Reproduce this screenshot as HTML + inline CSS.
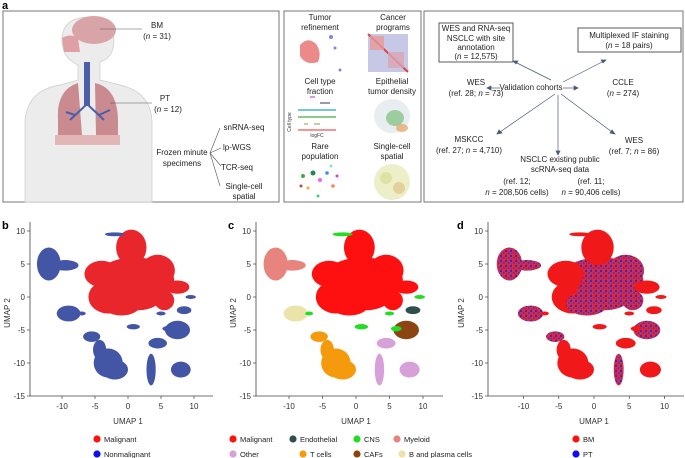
<!DOCTYPE html>
<html><head><meta charset="utf-8">
<style>
html,body{margin:0;padding:0;background:#fff;}
svg{display:block;font-family:"Liberation Sans",sans-serif;}
.t{font-size:8px;fill:#222;text-anchor:middle;}
.tk{font-size:8px;fill:#333;}
.lg{font-size:7.5px;fill:#222;}
.pl{font-size:11px;font-weight:bold;fill:#000;}
</style></head>
<body>
<svg id="fig" width="685" height="458" viewBox="0 0 685 458" xmlns="http://www.w3.org/2000/svg">
<defs>
<pattern id="mixPat" width="5" height="5" patternUnits="userSpaceOnUse">
<rect width="5" height="5" fill="#e8262b"/><rect x="0" y="0" width="2" height="2" fill="#2a2ae0"/><rect x="3" y="2" width="1.5" height="2" fill="#3a3ad8"/><rect x="1" y="3.5" width="1" height="1" fill="#3a3ad8"/>
</pattern>
</defs>
<text class="pl" x="2" y="9">a</text>
<g>
<rect x="3" y="11" width="276" height="191" fill="#fff" stroke="#555" stroke-width="0.8"/>
<path d="M25,202 L25,120 Q28,90 60,85 L78,80 L78,65 Q62,58 62,40 Q62,18 88,17 Q112,18 114,40 Q114,58 100,62 L100,80 L120,85 Q150,92 152,120 L152,202 Z" fill="#ececec" stroke="#ccc" stroke-width="0.7"/>
<ellipse cx="94" cy="30" rx="22" ry="14" fill="#d9a4a8"/>
<path d="M62,38 Q70,33 78,38 L80,52 L64,52 Z" fill="#dfa0a5"/>
<path d="M58,120 Q56,90 78,83 L82,135 Q70,140 58,135 Z" fill="#c98a90"/>
<path d="M95,83 Q118,88 118,122 L118,138 Q104,140 96,135 Z" fill="#c98a90"/>
<rect x="84" y="62" width="6" height="44" fill="#4a5fa8"/>
<path d="M87,104 L70,120 M87,104 L104,120 M75,115 L66,112 M99,115 L110,110" stroke="#4a5fa8" stroke-width="2" fill="none"/>
<rect x="55" y="135" width="65" height="10" fill="#e2b6b6"/>
<line x1="100" y1="29" x2="142" y2="29" stroke="#555" stroke-width="0.6"/>
<text class="t" x="157" y="28">BM</text>
<text class="t" x="157" y="39">(<tspan font-style="italic">n</tspan> = 31)</text>
<line x1="110" y1="103" x2="152" y2="103" stroke="#555" stroke-width="0.6"/>
<text class="t" x="165" y="101">PT</text>
<text class="t" x="168" y="112">(<tspan font-style="italic">n</tspan> = 12)</text>
<text class="t" x="182" y="155">Frozen minute</text>
<text class="t" x="182" y="166">specimens</text>
<path d="M210,153 L220,128 M210,153 L221,148 M210,153 L221,166 M210,153 L220,186" stroke="#555" stroke-width="0.6" fill="none"/>
<text class="t" x="244" y="130">snRNA-seq</text>
<text class="t" x="237" y="150">lp-WGS</text>
<text class="t" x="237" y="170">TCR-seq</text>
<text class="t" x="244" y="189">Single-cell</text>
<text class="t" x="244" y="199">spatial</text>
</g>
<g>
<rect x="284" y="11" width="137" height="191" fill="#fff" stroke="#555" stroke-width="0.8"/>
<text class="t" x="320" y="20">Tumor</text><text class="t" x="320" y="30">refinement</text>
<text class="t" x="393" y="20">Cancer</text><text class="t" x="393" y="30">programs</text>
<path d="M300,45 Q308,36 316,44 Q322,52 318,62 Q306,66 300,56 Z" fill="#ec8a8a"/>
<circle cx="331" cy="37" r="2" fill="#7788dd"/><circle cx="335" cy="48" r="1.5" fill="#7788dd"/><circle cx="340" cy="70" r="1.5" fill="#7788dd"/>
<rect x="368" y="34" width="40" height="38" fill="#c7c7e6"/>
<path d="M368,34 L408,72" stroke="#d44" stroke-width="2"/>
<rect x="370" y="36" width="14" height="14" fill="#e59a9a" opacity="0.8"/>
<rect x="388" y="52" width="16" height="16" fill="#d9a6b5" opacity="0.8"/>
<text class="t" x="320" y="84">Cell type</text><text class="t" x="320" y="94">fraction</text>
<text class="t" x="392" y="84">Epithelial</text><text class="t" x="392" y="94">tumor density</text>
<line x1="310" y1="97" x2="315" y2="97" stroke="#c5c" stroke-width="1.2"/>
<line x1="320" y1="103" x2="330" y2="103" stroke="#558" stroke-width="1.2"/>
<line x1="298" y1="110" x2="336" y2="110" stroke="#2aa" stroke-width="1.2"/>
<line x1="298" y1="117" x2="336" y2="117" stroke="#4a4" stroke-width="1.2"/>
<line x1="304" y1="124" x2="308" y2="124" stroke="#aa5" stroke-width="1.2"/><line x1="314" y1="124" x2="320" y2="124" stroke="#aa5" stroke-width="1.2"/>
<line x1="298" y1="130" x2="336" y2="130" stroke="#e55" stroke-width="1.2"/>
<text x="291" y="122" font-size="5" fill="#333" transform="rotate(-90 291 122)" text-anchor="middle">Cell type</text>
<text x="317" y="137" font-size="5" fill="#333" text-anchor="middle">logFC</text>
<ellipse cx="392" cy="116" rx="18" ry="17" fill="#e8eef0"/>
<ellipse cx="395" cy="118" rx="9" ry="8" fill="#7cbf7c" opacity="0.7"/>
<ellipse cx="402" cy="128" rx="6" ry="4" fill="#e8a060" opacity="0.7"/>
<text class="t" x="320" y="149">Rare</text><text class="t" x="320" y="159">population</text>
<text class="t" x="392" y="149">Single-cell</text><text class="t" x="392" y="159">spatial</text>
<circle cx="303" cy="176" r="2" fill="#4a4"/><circle cx="313" cy="173" r="2.5" fill="#285"/><circle cx="320" cy="180" r="2" fill="#e6e"/><circle cx="327" cy="173" r="1.8" fill="#48f"/><circle cx="333" cy="186" r="1.8" fill="#f84"/><circle cx="308" cy="188" r="1.5" fill="#ea4"/><circle cx="337" cy="176" r="1.5" fill="#c4c"/><circle cx="318" cy="196" r="1.5" fill="#4c8"/><circle cx="331" cy="166" r="1.5" fill="#8dd"/><circle cx="301" cy="186" r="1.5" fill="#a54"/>
<circle cx="392" cy="182" r="18" fill="#ecefc8"/>
<circle cx="386" cy="178" r="6" fill="#d9e09a" opacity="0.8"/><circle cx="399" cy="188" r="6" fill="#e2c890" opacity="0.8"/>
</g>
<g>
<rect x="424" y="11" width="259" height="191" fill="#fff" stroke="#555" stroke-width="0.8"/>
<rect x="439" y="23" width="74" height="39" fill="#fff" stroke="#333" stroke-width="0.8"/>
<text class="t" x="476" y="31">WES and RNA-seq</text><text class="t" x="476" y="41">NSCLC with site</text><text class="t" x="476" y="50">annotation</text><text class="t" x="476" y="59">(<tspan font-style="italic">n</tspan> = 12,575)</text>
<rect x="578" y="28" width="103" height="24" fill="#fff" stroke="#333" stroke-width="0.8"/>
<text class="t" x="629" y="38">Multiplexed IF staining</text><text class="t" x="629" y="48">(<tspan font-style="italic">n</tspan> = 18 pairs)</text>
<text class="t" x="531" y="90">Validation cohorts</text>
<text class="t" x="476" y="85">WES</text><text class="t" x="476" y="96">(ref. 28; <tspan font-style="italic">n</tspan> = 73)</text>
<text class="t" x="623" y="85">CCLE</text><text class="t" x="623" y="96">(<tspan font-style="italic">n</tspan> = 274)</text>
<text class="t" x="469" y="142">MSKCC</text><text class="t" x="469" y="153">(ref. 27; <tspan font-style="italic">n</tspan> = 4,710)</text>
<text class="t" x="634" y="143">WES</text><text class="t" x="634" y="154">(ref. 7; <tspan font-style="italic">n</tspan> = 86)</text>
<text class="t" x="560" y="162">NSCLC existing public</text><text class="t" x="560" y="172">scRNA-seq data</text>
<text class="t" x="517" y="184">(ref. 12;</text><text class="t" x="517" y="195"><tspan font-style="italic">n</tspan> = 208,506 cells)</text>
<text class="t" x="591" y="184">(ref. 11;</text><text class="t" x="591" y="195"><tspan font-style="italic">n</tspan> = 90,406 cells)</text>
<g stroke="#4a5a7a" stroke-width="0.7" fill="#4a5a7a">
<line x1="551" y1="80" x2="515" y2="62"/><path d="M513,61 l5,0 l-2,3z"/>
<line x1="563" y1="82" x2="604" y2="61"/><path d="M606,60 l-5,0 l2,3z"/>
<line x1="500" y1="88" x2="490" y2="88"/><path d="M487,88 l4,-2 l0,4z"/>
<line x1="563" y1="88" x2="575" y2="88"/><path d="M578,88 l-4,-2 l0,4z"/>
<line x1="555" y1="94" x2="500" y2="132"/><path d="M497,134 l2,-4 l3,3z"/>
<line x1="558" y1="95" x2="558" y2="152"/><path d="M558,155 l-2,-4 l4,0z"/>
<line x1="561" y1="94" x2="612" y2="132"/><path d="M615,134 l-5,-1 l2,-3z"/>
</g>
</g>
<g id="scatters"></g>
</svg>
<script>
// UMAP cluster shapes (data units)
const clusterX  = [1, 0.5, -3, 7.5, 5.5, -4, 4.5, -1, 1.5, -12, -9.5, -9, -3, -2, -5.5, -4.3, 7.5, 8.5, 3.5, 8, 4.5, 0.8, 5, 9.5, -2, -7, 6];
const clusterY  = [2.5, 7.5, 0, 1.5, -0.5, 3.5, 4, -1, 0.5, 5, 4.8, -2.5, -10, -11, -6, -8, -5, -2, -11, -11, -7, -4.5, -2.5, 0, 9.5, -2.5, -4.8];
const clusterRX = [6, 2.3, 3, 1.8, 1.5, 2.6, 2.6, 3, 4, 1.8, 2, 1.8, 2.2, 2, 1.3, 1, 1.9, 1.1, 0.7, 1.5, 1.4, 1.0, 0.7, 0.8, 1.5, 0.6, 0.8];
const clusterRY = [3.5, 2.7, 2.5, 1, 1.5, 2, 2.4, 1.8, 2.5, 2.5, 0.8, 1.2, 2.2, 1.5, 0.8, 1.5, 1.4, 0.6, 2.4, 1.2, 0.8, 0.4, 0.3, 0.3, 0.3, 0.3, 0.4];
const clusterType = ['Malignant','Malignant','Malignant','Malignant','Malignant','Malignant','Malignant','Malignant','Malignant','Myeloid','Myeloid','B and plasma cells','T cells','T cells','T cells','T cells','CAFs','Endothelial','Other','Other','Other','CNS','CNS','CNS','CNS','CNS','CNS'];
const clusterSite = ['mix','bm','bm','bm','mix','bm','mix','mix','mix','mix','mix','mix','bm','bm','mix','bm','mix','bm','mix','bm','bm','bm','bm','bm','bm','bm','bm'];
const xTicks = [-10, -5, 0, 5, 10];
const yTicks = [10, 5, 0, -5, -10, -15];
const typeColor = {'Malignant':'#ff1010','Endothelial':'#2f4f4f','CNS':'#22dd22','Myeloid':'#e8847e','Other':'#d8a0d8','T cells':'#f59a0c','CAFs':'#8b4513','B and plasma cells':'#ebe3a8'};
const legendB = ['Malignant','Nonmalignant'];
const legendC = ['Malignant','Endothelial','CNS','Myeloid','Other','T cells','CAFs','B and plasma cells'];
const legendD = ['BM','PT'];

const NS='http://www.w3.org/2000/svg';
const root=document.getElementById('scatters');
function mk(tag,attrs,parent){const e=document.createElementNS(NS,tag);for(const k in attrs)e.setAttribute(k,attrs[k]);(parent||root).appendChild(e);return e;}

const panels=[
 {id:'b',x0:128,ux:6.6,axX:30,right:213,lbl:2,title:7},
 {id:'c',x0:356,ux:6.7,axX:256,right:443,lbl:228,title:233},
 {id:'d',x0:594,ux:7.05,axX:488,right:684,lbl:457,title:461}
];
const y0=297, uy=6.6;
panels.forEach(p=>{
  const g=mk('g',{});
  
  
  const xs=v=>p.x0+v*p.ux, ys=v=>y0-v*uy;
  const pl=mk('text',{x:p.lbl,y:229,class:'pl'},g);pl.textContent=p.id;
  
  
  clusterX.forEach((cx,i)=>{
    let fill;
    if(p.id==='b') fill = clusterType[i]==='Malignant' ? '#e8262b' : '#4356a6';
    else if(p.id==='c') fill = typeColor[clusterType[i]];
    else fill = clusterSite[i]==='mix' ? 'url(#mixPat)' : '#f01818';
    const e=mk('ellipse',{cx:xs(cx),cy:ys(clusterY[i]),rx:clusterRX[i]*p.ux,ry:clusterRY[i]*uy,fill:fill},g);
    
    
  });
  const ax=mk('path',{d:`M${p.axX},222 L${p.axX},${ys(-15)} L${p.right},${ys(-15)}`,stroke:'#444','stroke-width':0.8,fill:'none'},g);
  
  
  xTicks.forEach(v=>{
    mk('line',{x1:xs(v),x2:xs(v),y1:ys(-15),y2:ys(-15)+3,stroke:'#444','stroke-width':0.7},g);
    const t=mk('text',{x:xs(v),y:ys(-15)+13,class:'tk','text-anchor':'middle'},g);t.textContent=v;
    
    
  });
  yTicks.forEach(v=>{
    mk('line',{x1:p.axX-3,x2:p.axX,y1:ys(v),y2:ys(v),stroke:'#444','stroke-width':0.7},g);
    const t=mk('text',{x:p.axX-5,y:ys(v)+3,class:'tk','text-anchor':'end'},g);t.textContent=v;
    
    
  });
  const xt=mk('text',{x:xs(0),y:424,class:'tk','font-size':'9','text-anchor':'middle'},g);xt.textContent='UMAP 1';
  
  
  const yt=mk('text',{x:p.title+3,y:313,class:'tk','font-size':'9','text-anchor':'middle',transform:`rotate(-90 ${p.title+3} 313)`},g);yt.textContent='UMAP 2';
  
  
  let items=[];
  if(p.id==='b') items=legendB.map((l,i)=>({l,c:i?'#1010ee':'#ff1010',x:97,y:439+i*15}));
  else if(p.id==='c'){const xs1=[233,293,357,397];items=legendC.map((l,i)=>({l,c:typeColor[l],x:xs1[i%4]+(i>=4&&i%4===1?10:0)+(i>=4&&i%4===3?5:0),y:i<4?439:454}));}
  else items=legendD.map((l,i)=>({l,c:i?'#1010ee':'#ff1010',x:576,y:439+i*15}));
  items.forEach(it=>{
    const lg=mk('g',{},g);
    
    
    mk('circle',{cx:it.x,cy:it.y,r:3.6,fill:it.c},lg);
    const t=mk('text',{x:it.x+7,y:it.y+2.8,class:'lg'},lg);t.textContent=it.l;
  });
});
</script>
</body></html>
